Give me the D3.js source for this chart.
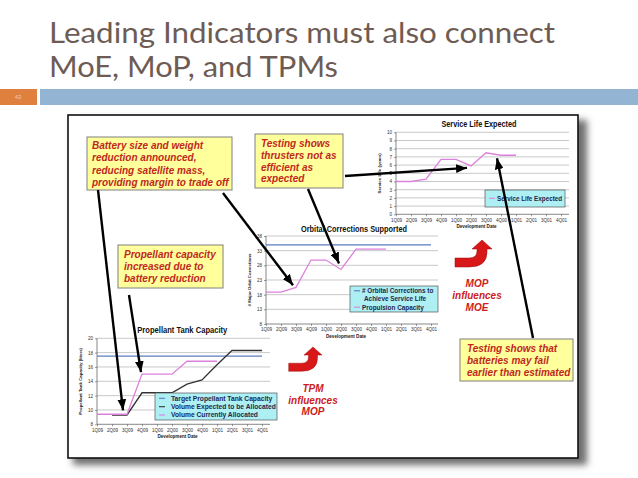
<!DOCTYPE html>
<html>
<head>
<meta charset="utf-8">
<script src="https://cdn.jsdelivr.net/npm/d3@7"></script>
<style>
  html, body { margin: 0; padding: 0; background: #fff; overflow: hidden; }
</style>
</head>
<body>
<svg id="slide" width="638" height="478"></svg>
<script>
//data
const titleLines = ["Leading Indicators must also connect", "MoE, MoP, and TPMs"];
const pageNumber = "43";
const quarters = ["1Q09", "2Q09", "3Q09", "4Q09", "1Q00", "2Q00", "3Q00", "4Q00", "1Q01", "2Q01", "3Q01", "4Q01"];

const serviceLifeExpected = [4.0, 4.0, 4.3, 6.7, 6.7, 5.9, 7.5, 7.2, 7.2];
const serviceTicks = [0, 1, 2, 3, 4, 5, 6, 7, 8, 9, 10];

const orbitalCorrectionsNeeded = [35, 35, 35, 35, 35, 35, 35, 35, 35, 35, 35, 35];
const propulsionCapacity = [18.9, 18.9, 20.5, 29.8, 29.8, 26.6, 33.5, 33.5, 33.5];
const orbitalTicks = [8, 13, 18, 23, 28, 33, 38];

const targetTankCapacity = [17.5, 17.5, 17.5, 17.5, 17.5, 17.5, 17.5, 17.5, 17.5, 17.5, 17.5, 17.5];
const volumeExpected = [null, 9.3, 9.3, 12.4, 12.4, 12.4, 13.6, 14.2, 16.3, 18.3, 18.3, 18.3];
const volumeAllocated = [9.4, 9.4, 9.4, 15.0, 15.0, 15.0, 16.8, 16.8, 16.8];
const tankTicks = [8, 10, 12, 14, 16, 18, 20];

const calloutTexts = [
  ["Battery size and weight", "reduction announced,", "reducing satellite mass,", "providing margin to trade off"],
  ["Testing shows", "thrusters not as", "efficient as", "expected"],
  ["Propellant capacity", "increased due to", "battery reduction"],
  ["Testing shows that", "batteries may fail", "earlier than estimated"]
];
const influenceTexts = [["MOP", "influences", "MOE"], ["TPM", "influences", "MOP"]];

//colours
const pink = "#dd80dd", blue = "#5a7cc0", dark = "#333333";
const chartFont = "'Liberation Sans', Arial, sans-serif";

const svg = d3.select("#slide");

//slide title and bar
titleLines.forEach((t, i) => {
  svg.append("text")
    .attr("x", 49)
    .attr("y", i === 0 ? 43 : 77)
    .attr("font-family", "Lato, 'Noto Sans', sans-serif")
    .attr("font-size", 29)
    .attr("fill", "#6e5c54")
    .attr("textLength", i === 0 ? 506 : 289)
    .attr("lengthAdjust", "spacingAndGlyphs")
    .text(t);
});
svg.append("rect").attr("x", 0).attr("y", 89).attr("width", 37).attr("height", 16).attr("fill", "#e0803e");
svg.append("rect").attr("x", 40).attr("y", 89).attr("width", 598).attr("height", 16).attr("fill", "#94b4d4");
svg.append("text").attr("x", 18).attr("y", 99).attr("text-anchor", "middle")
  .attr("font-family", chartFont).attr("font-size", 6).attr("fill", "#f6c7a6").text(pageNumber);

//picture frame with shadow
const defs = svg.append("defs");
defs.append("filter").attr("id", "shadow").attr("x", "-10%").attr("y", "-10%")
  .attr("width", "120%").attr("height", "120%")
  .append("feGaussianBlur").attr("stdDeviation", 3.5);
defs.append("marker").attr("id", "head")
  .attr("viewBox", "0 0 10 8").attr("refX", 10).attr("refY", 4)
  .attr("markerWidth", 11).attr("markerHeight", 9)
  .attr("markerUnits", "userSpaceOnUse").attr("orient", "auto")
  .append("path").attr("d", "M0,0 L10,4 L0,8 Z").attr("fill", "#000");

svg.append("rect").attr("x", 73).attr("y", 120).attr("width", 514).attr("height", 345)
  .attr("fill", "#6e6e6e").attr("filter", "url(#shadow)");
svg.append("rect").attr("x", 68).attr("y", 115).attr("width", 510).attr("height", 343)
  .attr("fill", "#fff").attr("stroke", "#111").attr("stroke-width", 1.6);

//function to draw one small excel-like line chart
const drawChart = (cfg) => {
  const g = svg.append("g");
  const x = d3.scalePoint().domain(quarters).range([cfg.left, cfg.left + 165]);
  const y = d3.scaleLinear().domain(d3.extent(cfg.ticks)).range([cfg.bottom, cfg.top]);

  //grid
  g.selectAll(".grid").data(cfg.ticks.slice(1)).enter().append("line")
    .attr("x1", cfg.left).attr("x2", cfg.right)
    .attr("y1", (d) => y(d)).attr("y2", (d) => y(d))
    .attr("stroke", "#a4a4a4").attr("stroke-width", 0.6);

  //axes
  const yAxis = g.append("g").attr("transform", `translate(${cfg.left},0)`)
    .call(d3.axisLeft(y).tickValues(cfg.ticks).tickSize(2).tickPadding(2));
  const xAxis = g.append("g").attr("transform", `translate(0,${cfg.bottom})`)
    .call(d3.axisBottom(x).tickSize(2).tickPadding(2));
  [yAxis, xAxis].forEach((a) => {
    a.select(".domain").remove();
    a.selectAll("line").attr("stroke", "#555").attr("stroke-width", 0.6);
    a.selectAll("text").attr("font-family", chartFont).attr("font-size", 4.6).attr("fill", "#333");
  });
  g.append("line").attr("x1", cfg.left).attr("x2", cfg.left).attr("y1", cfg.top).attr("y2", cfg.bottom)
    .attr("stroke", "#555").attr("stroke-width", 0.7);
  g.append("line").attr("x1", cfg.left).attr("x2", cfg.right).attr("y1", cfg.bottom).attr("y2", cfg.bottom)
    .attr("stroke", "#555").attr("stroke-width", 0.7);

  //series
  const line = d3.line().defined((d) => d.v != null).x((d) => x(d.q)).y((d) => y(d.v));
  cfg.series.forEach((s) => {
    g.append("path")
      .datum(s.values.map((v, i) => ({ q: quarters[i], v: v })))
      .attr("d", line)
      .attr("fill", "none").attr("stroke", s.color).attr("stroke-width", 1.3);
  });

  //titles
  g.append("text").attr("x", cfg.titleX).attr("y", cfg.titleY).attr("text-anchor", "middle")
    .attr("font-family", chartFont).attr("font-weight", "bold").attr("font-size", 8.5)
    .attr("textLength", cfg.titleW).attr("lengthAdjust", "spacingAndGlyphs")
    .attr("fill", "#111").text(cfg.title);
  g.append("text").attr("x", (cfg.left + cfg.right) / 2 - 6).attr("y", cfg.bottom + 13.5)
    .attr("text-anchor", "middle").attr("font-family", chartFont).attr("font-weight", "bold")
    .attr("font-size", 4.6).attr("fill", "#222").text("Development Date");
  g.append("text")
    .attr("transform", `translate(${cfg.yTitleX},${(cfg.top + cfg.bottom) / 2}) rotate(-90)`)
    .attr("text-anchor", "middle").attr("font-family", chartFont).attr("font-weight", "bold")
    .attr("font-size", 4.4).attr("fill", "#222").text(cfg.yTitle);

  //legend
  const L = cfg.legend;
  g.append("rect").attr("x", L.x).attr("y", L.y).attr("width", L.w).attr("height", L.h)
    .attr("fill", "#aeeff3").attr("stroke", "#555").attr("stroke-width", 0.7);
  L.items.forEach((it) => {
    if (it.color) {
      g.append("line").attr("x1", L.x + 4).attr("x2", L.x + 10).attr("y1", it.y).attr("y2", it.y)
        .attr("stroke", it.color).attr("stroke-width", 1.1);
    }
    g.append("text").attr("x", L.x + it.dx).attr("y", it.y + 2.3)
      .attr("font-family", chartFont).attr("font-weight", "bold").attr("font-size", L.fs)
      .attr("fill", "#1c2850").text(it.label);
  });
  return { x, y };
};

const service = drawChart({
  left: 396, right: 569, top: 132.3, bottom: 214.3, ticks: serviceTicks,
  title: "Service Life Expected", titleX: 479, titleY: 126.5, titleW: 75,
  yTitle: "Service Life (years)", yTitleX: 381,
  series: [{ values: serviceLifeExpected, color: pink }],
  legend: { x: 485, y: 190, w: 80, h: 17, fs: 6.3,
    items: [{ label: "Service Life Expected", color: pink, y: 198.3, dx: 12 }] }
});

const orbital = drawChart({
  left: 266, right: 438, top: 236, bottom: 324, ticks: orbitalTicks,
  title: "Orbital Corrections Supported", titleX: 354, titleY: 232.3, titleW: 106,
  yTitle: "# Major Orbit Corrections", yTitleX: 251,
  series: [{ values: orbitalCorrectionsNeeded, color: blue }, { values: propulsionCapacity, color: pink }],
  legend: { x: 350, y: 286, w: 88, h: 26, fs: 6.4,
    items: [
      { label: "# Orbital Corrections to", color: blue, y: 290.8, dx: 12 },
      { label: "Achieve Service Life", y: 298.6, dx: 14 },
      { label: "Propulsion Capacity", color: pink, y: 307.2, dx: 12 }
    ] }
});

const tank = drawChart({
  left: 97, right: 270, top: 338.3, bottom: 424.3, ticks: tankTicks,
  title: "Propellant Tank Capacity", titleX: 182.3, titleY: 333.3, titleW: 90,
  yTitle: "Propellant Tank Capacity (liters)", yTitleX: 82,
  series: [
    { values: targetTankCapacity, color: blue },
    { values: volumeExpected, color: dark },
    { values: volumeAllocated, color: pink }
  ],
  legend: { x: 155, y: 393, w: 122, h: 27, fs: 6.7,
    items: [
      { label: "Target Propellant Tank Capacity", color: blue, y: 398.3, dx: 16 },
      { label: "Volume Expected to be Allocated", color: dark, y: 406.7, dx: 16 },
      { label: "Volume Currently Allocated", color: pink, y: 415, dx: 16 }
    ] }
});

//yellow callouts
const calloutBoxes = [
  { x: 87, y: 137, w: 145, h: 53, tx: 92, ty: 149, lh: 12.3 },
  { x: 255, y: 134, w: 88, h: 54, tx: 261, ty: 147, lh: 11.8 },
  { x: 118, y: 245, w: 105, h: 43, tx: 124, ty: 257.5, lh: 12.3 },
  { x: 460, y: 339, w: 113, h: 42, tx: 467, ty: 351.5, lh: 12 }
];
calloutTexts.forEach((lines, i) => {
  const b = calloutBoxes[i];
  svg.append("rect").attr("x", b.x).attr("y", b.y).attr("width", b.w).attr("height", b.h)
    .attr("fill", "#ffff9c").attr("stroke", "#808080").attr("stroke-width", 1);
  lines.forEach((t, j) => {
    svg.append("text").attr("x", b.tx).attr("y", b.ty + j * b.lh)
      .attr("font-family", chartFont).attr("font-weight", "bold").attr("font-style", "italic")
      .attr("font-size", 10).attr("fill", "#c0281c").text(t);
  });
});

//black pointer arrows, tips placed on the chart points
const arrows = [
  { from: [98, 190], chart: tank, q: "3Q09", v: 9.4, off: [-4, -4] },
  { from: [129, 295], chart: tank, q: "4Q09", v: 15.0, off: [-1, -2] },
  { from: [223, 193], chart: orbital, q: "3Q09", v: 20.5, off: [-3, -2] },
  { from: [308, 189], chart: orbital, q: "2Q00", v: 26.6, off: [-2, -6] },
  { from: [345, 176], chart: service, q: "2Q00", v: 5.9, off: [-4, 2] },
  { from: [533, 338], chart: service, q: "4Q00", v: 7.2, off: [-4, 3] }
];
arrows.forEach((a) => {
  const tx = a.chart.x(a.q) + a.off[0];
  const ty = a.chart.y(a.v) + a.off[1];
  svg.append("line")
    .attr("x1", a.from[0]).attr("y1", a.from[1]).attr("x2", tx).attr("y2", ty)
    .attr("stroke", "#000").attr("stroke-width", 2.4)
    .attr("marker-end", "url(#head)");
});

//red curved arrows and influence labels
const redArrow = (tx, ty, k) => {
  svg.append("path")
    .attr("transform", `translate(${tx},${ty}) scale(${k})`)
    .attr("d", "M-27,18 L-13,18 Q-5,18 -5,11 L-5,9 L-10,9 L0,0 L10,9 L5,9 L5,12 Q5,27 -13,27 L-27,27 Z")
    .attr("fill", "#d81818").attr("stroke", "#9a0a0a").attr("stroke-width", 0.5);
};
redArrow(482, 240, 1);
redArrow(313, 347, 0.9);

const influencePos = [{ x: 477, y: 287, lh: 12 }, { x: 313, y: 392, lh: 11.7 }];
influenceTexts.forEach((lines, i) => {
  lines.forEach((t, j) => {
    svg.append("text").attr("x", influencePos[i].x).attr("y", influencePos[i].y + j * influencePos[i].lh)
      .attr("text-anchor", "middle").attr("font-family", chartFont)
      .attr("font-weight", "bold").attr("font-style", "italic").attr("font-size", 10)
      .attr("fill", "#cc2020").text(t);
  });
});
</script>
</body>
</html>
